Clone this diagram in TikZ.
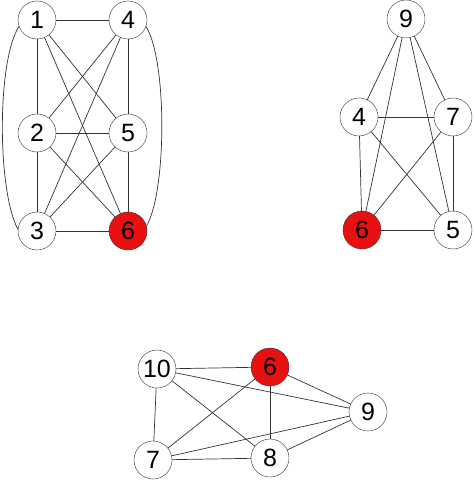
\documentclass[tikz,border=0pt]{standalone}
\usepackage{fontspec}
\setmainfont{Liberation Sans}
\usepackage{tikz}
\definecolor{vtxline}{HTML}{333333}
\definecolor{hitred}{HTML}{E81010}
\tikzset{
    vtx/.style={circle,draw=vtxline,fill=white,minimum size=38pt,inner sep=0pt,
        font=\fontsize{25}{25}\selectfont},
    hit/.style={vtx,fill=hitred},
    link/.style={draw,vtxline,line width=0.7pt},
    every edge/.style={link},
}
\begin{document}
\begin{tikzpicture}[x=1pt,y=1pt]
    \useasboundingbox (0,0) rectangle (474,-481);
    % first graph
    \node[vtx] (a1) at (37,-20) {1};
    \node[vtx] (a4) at (128,-20) {4};
    \node[vtx] (a2) at (37,-133) {2};
    \node[vtx] (a5) at (128,-133) {5};
    \node[vtx] (a3) at (37,-231) {3};
    \node[hit] (a6) at (128,-231) {6};

    \path
    (a1) edge (a4)
    (a1) edge (a2)
    (a1) edge (a5)
    (a1) edge (a6)
    (a4) edge (a5)
    (a4) edge (a2)
    (a4) edge (a3)
    (a2) edge (a5)
    (a2) edge (a3)
    (a2) edge (a6)
    (a5) edge (a3)
    (a5) edge (a6)
    (a3) edge (a6);
    \draw[link] (a1.200) .. controls (-3,-60) and (-3,-190) .. (a3.175);
    \draw[link] (a4.-20) .. controls (167,-60) and (167,-190) .. (a6.15);

    % second graph
    \node[vtx] (b9) at (406,-19) {9};
    \node[vtx] (b4) at (359,-117) {4};
    \node[vtx] (b7) at (453,-117) {7};
    \node[hit] (b6) at (362,-230) {6};
    \node[vtx] (b5) at (453,-230) {5};

    \path
    (b9) edge (b4)
    (b9) edge (b7)
    (b9) edge (b6)
    (b9) edge (b5)
    (b4) edge (b7)
    (b4) edge (b6)
    (b4) edge (b5)
    (b7) edge (b6)
    (b7) edge (b5)
    (b6) edge (b5);

    % third graph
    \node[vtx] (c10) at (157,-369) {10};
    \node[hit] (c6) at (270,-367) {6};
    \node[vtx] (c9) at (368,-412) {9};
    \node[vtx] (c7) at (153,-460) {7};
    \node[vtx] (c8) at (270,-458) {8};

    \path
    (c10) edge (c6)
    (c10) edge (c9)
    (c10) edge (c8)
    (c10) edge (c7)
    (c6) edge (c9)
    (c6) edge (c7)
    (c6) edge (c8)
    (c7) edge (c9)
    (c7) edge (c8)
    (c8) edge (c9);
\end{tikzpicture}
\end{document}
